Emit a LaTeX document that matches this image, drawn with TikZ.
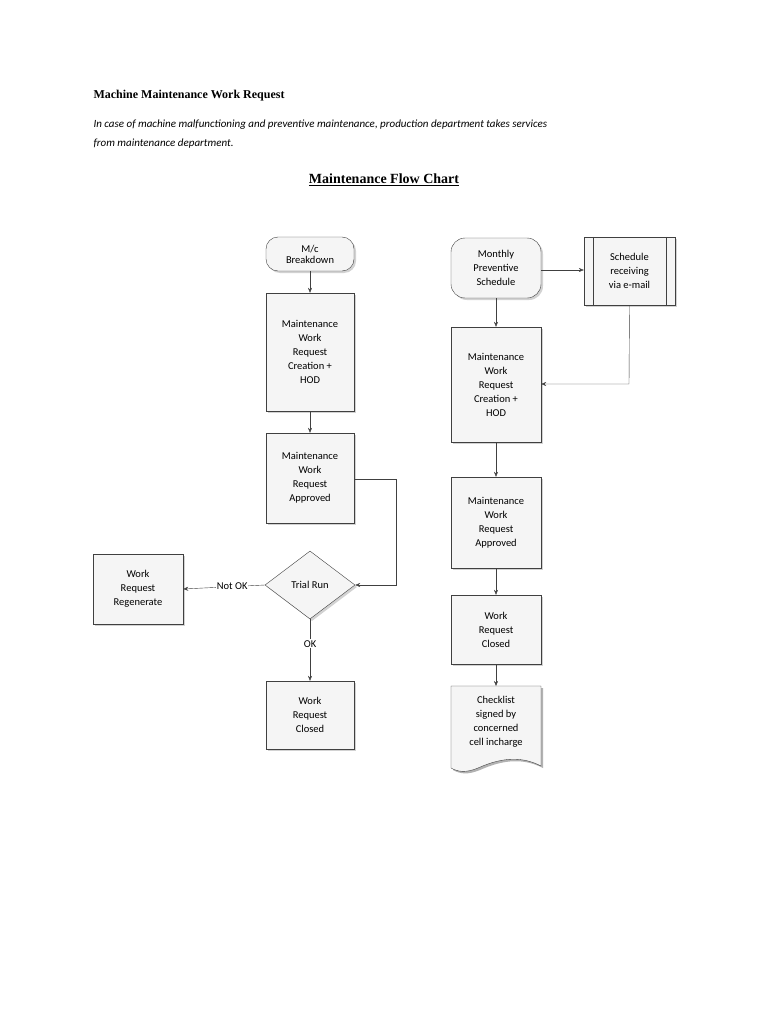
\documentclass[tikz,border=0pt]{standalone}
\usepackage{fontspec}
\setmainfont{Liberation Serif}
\newfontfamily\calfont{Carlito}
\usetikzlibrary{shapes.geometric,shadows,arrows.meta,calc}
\begin{document}
\begin{tikzpicture}[x=1pt,y=-1pt,
 box/.style={draw=black!75,fill=black!4,drop shadow={opacity=0.35,shadow xshift=2pt,shadow yshift=-2pt},align=center,font=\calfont\fontsize{10.5}{14}\selectfont,inner sep=2pt},
 arr/.style={draw=black!75,-{Stealth[length=5pt,width=4pt]}},
 lbl/.style={font=\calfont\fontsize{10.5}{12}\selectfont,fill=white,inner sep=1pt}]
\useasboundingbox (0,0) rectangle (768,1024);
\fill[white] (0,0) rectangle (768,1024);
\node[anchor=west,font=\bfseries\fontsize{12}{14}\selectfont] (t1) at (90,96) {Machine Maintenance Work Request};
\node[anchor=west,font=\calfont\itshape\fontsize{11}{14}\selectfont] (t2) at (90,125) {In case of machine malfunctioning and preventive maintenance, production department takes services};
\node[anchor=west,font=\calfont\itshape\fontsize{11}{14}\selectfont] (t3) at (90,144) {from maintenance department.};
\node[font=\bfseries\fontsize{14}{16}\selectfont] (t4) at (384,180) {\underline{Maintenance Flow Chart}};
% left
\node[box,rounded corners=12pt,minimum width=88pt,minimum height=34pt] (a1) at (310,254) {M/c\\[-3pt]Breakdown};
\node[box,minimum width=88pt,minimum height=118pt] (a2) at (310,352) {Maintenance\\Work\\Request\\Creation +\\HOD};
\node[box,minimum width=88pt,minimum height=90pt] (a3) at (310,478) {Maintenance\\Work\\Request\\Approved};
\node[box,diamond,aspect=1.35,minimum width=90pt,minimum height=68pt,inner sep=0pt] (a4) at (310,585) {Trial Run};
\node[box,minimum width=88pt,minimum height=68pt] (a5) at (310,715) {Work\\Request\\Closed};
\node[box,minimum width=90pt,minimum height=70pt] (a6) at (138,589) {Work\\Request\\Regenerate};
\coordinate (c1) at (396,479);
\coordinate (c2) at (396,585);
\draw[arr] (a1) -- (a2);
\draw[arr] (a2) -- (a3);
\draw[arr] (a3.east|-c1) -- (c1) -- (c2) -- (a4.east);
\draw[arr] (a4.west) -- node[lbl,pos=0.4]{Not OK} (a6.east);
\draw[arr] (a4.south) -- node[lbl,pos=0.4]{OK} (a5.north);
% right
\node[box,rounded corners=14pt,minimum width=90pt,minimum height=60pt] (b1) at (496,268) {Monthly\\Preventive\\Schedule};
\node[box,minimum width=91pt,minimum height=68pt] (b2) at (629.5,271) {Schedule\\receiving\\via e-mail};
\draw[black!75] ($(b2.north west)+(9,0)$) -- ($(b2.south west)+(9,0)$) ($(b2.north east)+(-9,0)$) -- ($(b2.south east)+(-9,0)$);
\node[box,minimum width=90pt,minimum height=115pt] (b3) at (496,384.5) {Maintenance\\Work\\Request\\Creation +\\HOD};
\node[box,minimum width=90pt,minimum height=91pt] (b4) at (496,522.5) {Maintenance\\Work\\Request\\Approved};
\node[box,minimum width=90pt,minimum height=69pt] (b5) at (496,629.5) {Work\\Request\\Closed};
\fill[black,opacity=0.3] (453,688) -- (543,688) -- (543,768) .. controls (520,756) and (498,762) .. (480,770) .. controls (468,775) and (460,774) .. (453,770) -- cycle;
\draw[black!75,fill=black!4] (451,686) -- (541,686) -- (541,766) .. controls (518,754) and (496,760) .. (478,768) .. controls (466,773) and (458,772) .. (451,768) -- cycle;
\node[align=center,font=\calfont\fontsize{10.5}{14}\selectfont] (b6) at (496,722) {Checklist\\signed by\\concerned\\cell incharge};
\coordinate (d1) at (629,384);
\coordinate (e1) at (496,686);
\draw[arr] (b1.east|-0,270) -- (b2.west|-0,270);
\draw[arr] (b1.south) -- (b3.north);
\draw[arr] (b2.south) -- (d1) -- (b3.east|-d1);
\draw[arr] (b3) -- (b4);
\draw[arr] (b4) -- (b5);
\draw[arr] (b5.south) -- (e1);
\end{tikzpicture}
\end{document}
